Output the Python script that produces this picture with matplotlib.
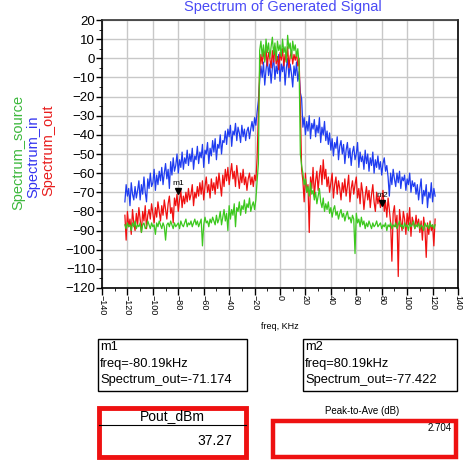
import matplotlib
matplotlib.use('Agg')
import matplotlib.pyplot as plt
from matplotlib.patches import Rectangle
import numpy as np

# frequency grid, kHz (1 kHz steps)
freq = np.arange(-122, 123)

# Spectrum_in (blue): left skirt -122..-19, main band -18..17, right skirt 18..122
in_left = [
    -75, -66, -72, -68, -77, -65, -71, -74, -67, -73,
    -69, -64, -74, -66, -71, -62, -70, -75, -63, -68,
    -60, -67, -65, -58, -69, -61, -66, -59, -64, -57,
    -66, -60, -55, -63, -58, -68, -54, -61, -52, -59,
    -56, -50, -60, -53, -57, -49, -58, -52, -55, -48,
    -56, -50, -54, -47, -58, -51, -53, -46, -55, -49,
    -52, -45, -57, -48, -50, -44, -55, -47, -51, -43,
    -49, -42, -53, -45, -47, -40, -50, -43, -44, -38,
    -45, -37, -41, -35, -46, -38, -40, -34, -43, -36,
    -39, -44, -35, -41, -37, -43, -38, -36, -42, -37,
    -33, -38, -31, -35]
in_band = [
    -28, -22, -12, -4, -10, -2, -14, -6, 0, -9,
    -3, -13, -5, 1, -11, -4, -8, 2, -12, -3,
    -7, -1, -14, -5, 0, -10, -3, -8, -15, -4,
    -9, -2, -12, -7, -18, -21]
in_right = [
    -36, -31, -40, -33, -38, -30, -42, -34, -37, -32,
    -41, -35, -39, -31, -44, -36, -40, -33, -43, -38,
    -45, -39, -48, -42, -51, -44, -47, -41, -53, -46,
    -43, -50, -45, -55, -48, -44, -52, -47, -56, -49,
    -46, -53, -50, -44, -57, -49, -54, -51, -58, -48,
    -55, -50, -59, -52, -56, -49, -60, -53, -57, -51,
    -58, -54, -61, -55, -52, -59, -56, -62, -72, -60,
    -66, -58, -63, -67, -60, -65, -59, -68, -62, -64,
    -61, -69, -63, -66, -60, -70, -64, -67, -65, -71,
    -66, -74, -68, -63, -76, -69, -72, -66, -78, -70,
    -73, -65, -75, -68, -72]

# Spectrum_out (red)
out_left = [
    -82, -95, -80, -88, -84, -92, -79, -86, -90, -81,
    -87, -78, -84, -91, -80, -85, -77, -89, -82, -79,
    -84, -76, -81, -86, -78, -83, -75, -80, -85, -77,
    -82, -74, -79, -84, -76, -72, -81, -78, -86, -73,
    -77, -71, -80, -74, -69, -78, -72, -76, -70, -75,
    -68, -74, -71, -66, -77, -70, -73, -67, -72, -65,
    -71, -64, -74, -67, -62, -70, -66, -73, -63, -69,
    -65, -71, -62, -68, -60, -66, -72, -61, -67, -58,
    -64, -57, -66, -60, -55, -63, -59, -67, -56, -62,
    -68, -60, -65, -58, -66, -62, -69, -63, -60, -66,
    -62, -67, -61, -64]
out_band = [
    -52, -28, -6, 2, -3, 4, -1, 5, -4, 3,
    0, -5, 4, -2, 6, -3, 1, -6, 3, -1,
    5, -4, 2, -2, 6, -5, 1, 4, -3, 2,
    -1, 3, -4, 0, -25, -58]
out_right = [
    -64, -75, -60, -70, -66, -91, -62, -68, -57, -72,
    -64, -59, -69, -61, -56, -66, -53, -63, -58, -67,
    -62, -70, -65, -60, -73, -66, -62, -71, -64, -68,
    -74, -65, -70, -63, -72, -67, -61, -75, -68, -64,
    -71, -66, -62, -73, -68, -76, -65, -70, -79, -72,
    -67, -74, -69, -78, -71, -66, -75, -80, -70, -76,
    -72, -78, -74, -69, -80, -75, -83, -73, -79, -86,
    -106, -81, -77, -88, -82, -114, -79, -85, -90, -80,
    -84, -92, -81, -87, -78, -93, -83, -86, -89, -82,
    -88, -84, -91, -85, -95, -83, -89, -104, -86, -92,
    -85, -90, -87, -98, -84]

# Spectrum_source (green)
src_left = [
    -87, -89, -86, -88, -87, -90, -86, -88, -85, -89,
    -87, -88, -86, -91, -87, -86, -89, -88, -85, -87,
    -89, -86, -88, -87, -92, -86, -88, -85, -87, -89,
    -86, -88, -95, -87, -86, -88, -85, -87, -89, -86,
    -88, -87, -86, -89, -85, -87, -88, -86, -84, -88,
    -86, -87, -85, -88, -86, -84, -87, -85, -88, -86,
    -84, -98, -87, -83, -86, -85, -88, -84, -86, -83,
    -85, -87, -82, -86, -84, -80, -87, -83, -79, -85,
    -81, -90, -77, -84, -79, -82, -76, -88, -78, -80,
    -75, -82, -77, -79, -74, -81, -76, -78, -73, -80,
    -77, -75, -79, -74]
src_band = [
    -64, -55, 4, 9, 1, 7, -2, 10, 3, 8,
    0, 6, 11, 2, 8, -1, 9, 4, 7, 1,
    10, 3, 6, -2, 12, 5, 8, 0, 9, 4,
    7, 1, 5, -3, -50, -56]
src_right = [
    -60, -66, -63, -70, -67, -72, -65, -71, -69, -74,
    -70, -76, -72, -68, -75, -78, -73, -80, -76, -79,
    -75, -81, -78, -83, -79, -77, -82, -80, -84, -81,
    -79, -83, -81, -85, -82, -80, -84, -83, -86, -82,
    -84, -102, -81, -86, -84, -88, -83, -87, -85, -89,
    -86, -88, -85, -87, -89, -86, -88, -87, -85, -88,
    -87, -86, -89, -87, -88, -86, -90, -87, -88, -86,
    -89, -87, -88, -86, -89, -87, -85, -88, -87, -89,
    -86, -88, -87, -90, -86, -88, -87, -85, -89, -87,
    -88, -86, -89, -87, -88, -90, -86, -88, -87, -89,
    -86, -88, -87, -89, -87]

spec_in = np.array(in_left + in_band + in_right)
spec_out = np.array(out_left + out_band + out_right)
spec_src = np.array(src_left + src_band + src_right)

# markers
m1_freq, m1_val = -80.19, -71.174
m2_freq, m2_val = 80.19, -77.422
pout_dbm = 37.27
peak_to_ave = 2.704

W, H = 474, 466


def fx(x):
    return x / W


def fy(y):
    return 1 - y / H


fig = plt.figure(figsize=(W / 100, H / 100), dpi=100)
plt.rcParams['font.family'] = ['Liberation Sans', 'DejaVu Sans']

ax = fig.add_axes([fx(102), fy(288), (458 - 102) / W, (288 - 20) / H])
ax.plot(freq, spec_in, color='#1f3cf0', lw=0.9)
ax.plot(freq, spec_out, color='#f01010', lw=0.9)
ax.plot(freq, spec_src, color='#3cc81e', lw=0.9)

# marker symbols
for mf, mv, name in [(m1_freq, m1_val, 'm1'), (m2_freq, m2_val, 'm2')]:
    ax.plot(mf, mv + 2, marker='v', color='black', ms=5, ls='none')
    ax.text(mf, mv + 4, name, fontsize=6, ha='center', va='bottom', color='black')

ax.set_xlim(-140, 140)
ax.set_ylim(-120, 20)
ax.set_xticks(np.arange(-140, 141, 20))
ax.set_yticks(np.arange(-120, 21, 10))
ax.set_xticks(np.arange(-140, 141, 10), minor=True)
ax.set_yticks(np.arange(-120, 21, 5), minor=True)
ax.grid(True, which='major', color='#c8c8c8', lw=1)
ax.tick_params(axis='y', labelsize=9.5, length=4, width=1, pad=1)
ax.tick_params(axis='x', labelsize=6.5, length=5, width=1, pad=0, labelrotation=270)
ax.tick_params(which='minor', length=2)
for s in ax.spines.values():
    s.set_linewidth(1.2)
ax.spines['top'].set_color('#333333')

ax.set_xlabel('freq, KHz', fontsize=6.5, labelpad=5)

fig.text(fx(283), fy(7), 'Spectrum of Generated Signal', color='#4a4af5',
         fontsize=10.5, ha='center', va='center')

fig.text(fx(18), fy(152), 'Spectrum_source', color='#3cb83c', fontsize=10.5,
         rotation=90, ha='center', va='center')
fig.text(fx(33), fy(157), 'Spectrum_in', color='#3333f0', fontsize=10.5,
         rotation=90, ha='center', va='center')
fig.text(fx(48), fy(150), 'Spectrum_out', color='#e81c1c', fontsize=10.5,
         rotation=90, ha='center', va='center')

# marker readout boxes
for x0, x1, lines in [
    (98, 247, ['m1', 'freq=%.2fkHz' % m1_freq, 'Spectrum_out=%.3f' % m1_val]),
    (303, 457, ['m2', 'freq=%.2fkHz' % m2_freq, 'Spectrum_out=%.3f' % m2_val]),
]:
    fig.add_artist(Rectangle((fx(x0), fy(391)), (x1 - x0) / W, (391 - 339) / H,
                             transform=fig.transFigure, fill=False,
                             edgecolor='black', lw=1))
    for i, t in enumerate(lines):
        fig.text(fx(x0 + 2), fy(347 + 16.5 * i), t, fontsize=9.3,
                 ha='left', va='center')

# Pout_dBm table
fig.add_artist(Rectangle((fx(99), fy(457)), (246 - 99) / W, (457 - 408) / H,
                         transform=fig.transFigure, fill=False,
                         edgecolor='#ee1111', lw=3.5))
fig.add_artist(plt.Line2D([fx(99), fx(246)], [fy(425), fy(425)],
                          transform=fig.transFigure, color='black', lw=0.8))
fig.text(fx(172), fy(416), 'Pout_dBm', fontsize=10, ha='center', va='center')
fig.text(fx(232), fy(441), '%.2f' % pout_dbm, fontsize=10, ha='right', va='center')

# Peak-to-Ave table
fig.text(fx(362), fy(411), 'Peak-to-Ave (dB)', fontsize=7, ha='center', va='center')
fig.add_artist(Rectangle((fx(273), fy(457)), (456 - 273) / W, (457 - 421) / H,
                         transform=fig.transFigure, fill=False,
                         edgecolor='#ee1111', lw=3.2))
fig.text(fx(452), fy(428), '%.3f' % peak_to_ave, fontsize=7, ha='right', va='center')

fig.savefig('out.png', dpi=100)
